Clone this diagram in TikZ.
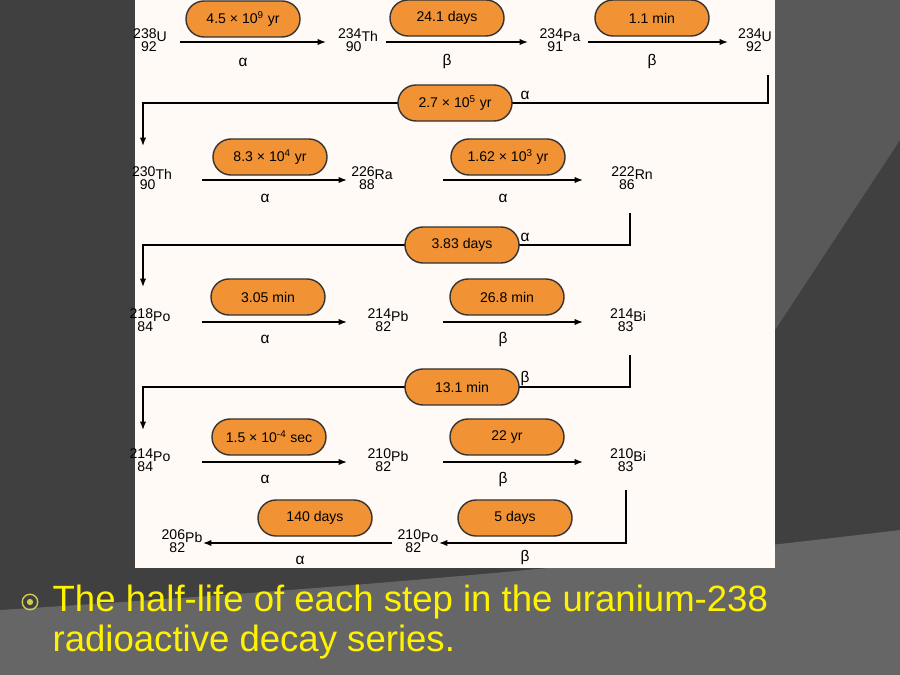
\documentclass[tikz,border=0pt]{standalone}
\usepackage{fontspec}
\setmainfont{Liberation Sans}
\usetikzlibrary{shapes.misc,arrows.meta}
\newcommand{\nuc}[3]{{\fontsize{10}{11}\selectfont\renewcommand\arraystretch{0.85}\begin{tabular}{@{}r@{}}#1\\#2\end{tabular}}\raisebox{3pt}{\fontsize{10}{11}\selectfont #3}}
\begin{document}
\begin{tikzpicture}
[x=0.025cm, y=-0.025cm, line width=0.9pt,
pill/.style={rounded rectangle, draw=black!80, line width=1pt, fill=orange!75!brown!85, inner sep=0pt, minimum width=2.85cm, minimum height=0.9cm, font=\fontsize{10}{11}\selectfont},
nucl/.style={inner sep=0pt},
mode/.style={inner sep=0pt, font=\fontsize{11}{11}\selectfont},
decay/.style={-{Latex[length=6pt,width=4.5pt]}}]

% slide background
\useasboundingbox (0,0) rectangle (900,675);
\fill[black!75] (0,0) rectangle (900,675);
\fill[black!65] (775,0) -- (900,0) -- (900,140) -- (775,330) -- cycle;
\fill[black!60] (0,610) .. controls (400,585) and (650,560) .. (900,530) -- (900,675) -- (0,675) -- cycle;
\fill[white!96!orange] (135,0) rectangle (775,568);

% row 1
\node[nucl] (u238) at (150,42) {\nuc{238}{92}{U}};
\node[nucl] (th234) at (358,42) {\nuc{234}{90}{Th}};
\node[nucl] (pa234) at (560,42) {\nuc{234}{91}{Pa}};
\node[nucl] (u234) at (755,42) {\nuc{234}{92}{U}};
\draw[decay] (180,42) -- (326,42);
\draw[decay] (386,42) -- (528,42);
\draw[decay] (588,42) -- (728,42);
\node[pill] (hl1) at (243,19) {4.5 × 10\textsuperscript{9} yr};
\node[pill] (hl2) at (447,18) {24.1 days};
\node[pill] (hl3) at (652,18) {1.1 min};
\node[mode] at (243,62) {α};
\node[mode] at (447,62) {β};
\node[mode] at (652,62) {β};

% link 1
\coordinate (c1) at (768,103);
\coordinate (c2) at (143,103);
\draw[decay] (768,75) -- (c1) -- (c2) -- (143,146);
\node[pill] (hl4) at (455,103) {2.7 × 10\textsuperscript{5} yr};
\node[mode] at (525,95) {α};

% row 2
\node[nucl] (th230) at (152,180) {\nuc{230}{90}{Th}};
\node[nucl] (ra226) at (372,180) {\nuc{226}{88}{Ra}};
\node[nucl] (rn222) at (632,180) {\nuc{222}{86}{Rn}};
\draw[decay] (202,180) -- (347,180);
\draw[decay] (443,180) -- (583,180);
\node[pill] (hl5) at (270,157) {8.3 × 10\textsuperscript{4} yr};
\node[pill] (hl6) at (508,157) {1.62 × 10\textsuperscript{3} yr};
\node[mode] at (265,198) {α};
\node[mode] at (503,198) {α};

% link 2
\draw[decay] (630,213) -- (630,245) -- (143,245) -- (143,287);
\node[pill] (hl7) at (462,245) {3.83 days};
\node[mode] at (525,237) {α};

% row 3
\node[nucl] (po218) at (150,322) {\nuc{218}{84}{Po}};
\node[nucl] (pb214) at (388,322) {\nuc{214}{82}{Pb}};
\node[nucl] (bi214) at (628,322) {\nuc{214}{83}{Bi}};
\draw[decay] (202,322) -- (347,322);
\draw[decay] (443,322) -- (583,322);
\node[pill] (hl8) at (268,297) {3.05 min};
\node[pill] (hl9) at (507,297) {26.8 min};
\node[mode] at (265,339) {α};
\node[mode] at (503,339) {β};

% link 3
\draw[decay] (630,355) -- (630,387) -- (143,387) -- (143,430);
\node[pill] (hl10) at (462,387) {13.1 min};
\node[mode] at (525,378) {β};

% row 4
\node[nucl] (po214) at (150,462) {\nuc{214}{84}{Po}};
\node[nucl] (pb210) at (388,462) {\nuc{210}{82}{Pb}};
\node[nucl] (bi210) at (628,462) {\nuc{210}{83}{Bi}};
\draw[decay] (202,462) -- (347,462);
\draw[decay] (443,462) -- (583,462);
\node[pill] (hl11) at (269,437) {1.5 × 10\textsuperscript{-4} sec};
\node[pill] (hl12) at (507,437) {22 yr};
\node[mode] at (265,479) {α};
\node[mode] at (503,479) {β};

% row 5
\node[nucl] (po210) at (418,543) {\nuc{210}{82}{Po}};
\node[nucl] (pb206) at (182,543) {\nuc{206}{82}{Pb}};
\draw[decay] (626,490) -- (626,543) -- (po210.east);
\draw[decay] (392,543) -- (pb206.east);
\node[pill] (hl13) at (315,518) {140 days};
\node[pill] (hl14) at (515,518) {5 days};
\node[mode] at (300,560) {α};
\node[mode] at (525,557) {β};

% caption
\node[circle, draw=yellow!60!gray, line width=1pt, minimum size=11pt, inner sep=0pt] (bul) at (30,602) {};
\fill[yellow!60!gray] (bul) circle (2.2pt);
\node[anchor=north west, align=left, text=yellow, inner sep=0pt, font=\fontsize{26}{29}\selectfont] (cap) at (52,584) {The half-life of each step in the uranium-238\\radioactive decay series.};
\end{tikzpicture}
\end{document}
